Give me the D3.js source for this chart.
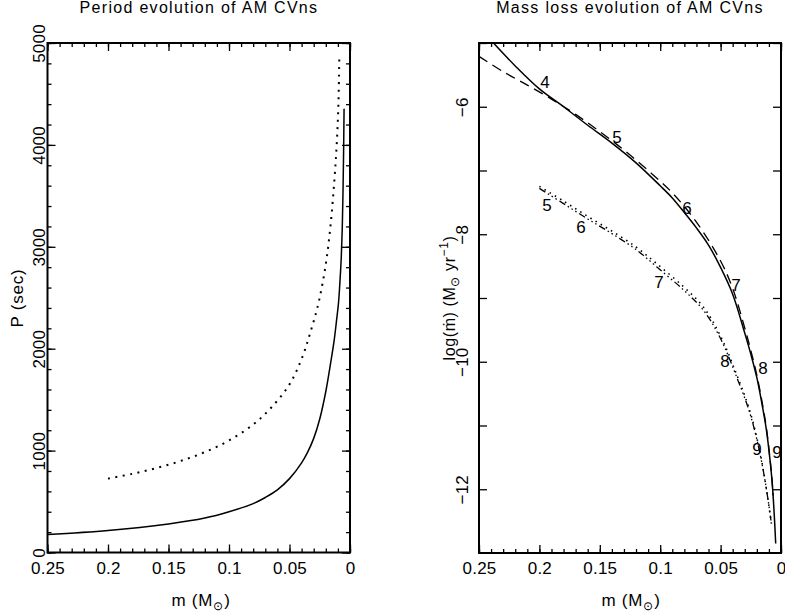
<!DOCTYPE html>
<html>
<head>
<meta charset="utf-8">
<script src="https://cdn.jsdelivr.net/npm/d3@7"></script>
<style>
  body { margin: 0; background: #fff; }
  svg { display: block; }
  text { font-family: "Liberation Sans", Arial, Helvetica, sans-serif; fill: #000; }
  .domain { display: none; }
</style>
</head>
<body>
<div id="chart"></div>
<script>
// Left panel: orbital period vs donor mass
const massSolidL = [0.25, 0.2, 0.15, 0.12, 0.1, 0.08, 0.07, 0.06, 0.05, 0.04, 0.035, 0.03, 0.025, 0.02, 0.016, 0.013, 0.011, 0.0095, 0.0082, 0.0072, 0.0064, 0.0058, 0.0053, 0.0049];
const periodSolid = [176, 215, 280, 338, 400, 480, 540, 615, 725, 880, 985, 1120, 1310, 1580, 1860, 2090, 2290, 2450, 2680, 2900, 3180, 3520, 3920, 4355];
const massDottedL = [0.2, 0.18, 0.16, 0.14, 0.12, 0.1, 0.08, 0.065, 0.05, 0.04, 0.033, 0.026, 0.02, 0.016, 0.013, 0.011, 0.0096, 0.0088];
const periodDotted = [725, 772, 829, 898, 985, 1099, 1256, 1423, 1650, 1900, 2150, 2450, 2830, 3220, 3640, 4000, 4390, 4880];

// Right panel: log mass loss rate vs donor mass
const massSolidR = [0.238, 0.22, 0.2, 0.18, 0.16, 0.14, 0.12, 0.1, 0.09, 0.08, 0.07, 0.06, 0.05, 0.04, 0.03, 0.025, 0.02, 0.015, 0.012, 0.0091, 0.0075, 0.0063, 0.0053, 0.0044];
const logMdotSolid = [-5.0, -5.36, -5.72, -6.0, -6.29, -6.57, -6.88, -7.24, -7.43, -7.66, -7.9, -8.17, -8.52, -8.94, -9.55, -9.88, -10.25, -10.74, -11.08, -11.54, -11.85, -12.17, -12.5, -12.85];
const massDashedR = [0.25, 0.23, 0.21, 0.19, 0.17, 0.15, 0.13, 0.11, 0.09, 0.07, 0.05, 0.04, 0.03, 0.025, 0.02, 0.015, 0.012, 0.0091, 0.0075, 0.0065];
const logMdotDashed = [-5.21, -5.45, -5.66, -5.88, -6.12, -6.39, -6.68, -7.0, -7.35, -7.81, -8.42, -8.85, -9.47, -9.82, -10.21, -10.7, -11.05, -11.52, -11.84, -12.1];
const massDashDotR = [0.2, 0.18, 0.16, 0.14, 0.12, 0.103, 0.0809, 0.0643, 0.0505, 0.0367, 0.0257, 0.0174, 0.0119, 0.0083];
const logMdotDashDot = [-7.28, -7.52, -7.76, -7.99, -8.24, -8.51, -8.87, -9.19, -9.62, -10.24, -10.81, -11.44, -12.02, -12.49];
const massDotR = [0.2, 0.18, 0.16, 0.14, 0.12, 0.103, 0.0809, 0.0643, 0.0505, 0.0367, 0.0257, 0.0174, 0.0119, 0.0075];
const logMdotDot = [-7.25, -7.48, -7.72, -7.95, -8.2, -8.46, -8.82, -9.14, -9.58, -10.2, -10.78, -11.42, -12.02, -12.6];

// Numbers written along the curves
const upperLabels = ["4", "5", "6", "7", "8", "9"];
const upperLabelMass = [0.1954, 0.1358, 0.0778, 0.0373, 0.0149, 0.0033];
const upperLabelLog = [-5.61, -6.47, -7.59, -8.80, -10.10, -11.42];
const lowerLabels = ["5", "6", "7", "8", "9"];
const lowerLabelMass = [0.1937, 0.1656, 0.101, 0.0464, 0.0199];
const lowerLabelLog = [-7.54, -7.88, -8.75, -9.99, -11.36];

// Axis ticks
const massTicks = [0.25, 0.2, 0.15, 0.1, 0.05, 0];
const massTickLabels = ["0.25", "0.2", "0.15", "0.1", "0.05", "0"];
const periodTicks = [0, 1000, 2000, 3000, 4000, 5000];
const logTicks = [-6, -8, -10, -12];
const logTickLabels = ["\u22126", "\u22128", "\u221210", "\u221212"];

const W = 785, H = 612;
const svg = d3.select("#chart").append("svg").attr("width", W).attr("height", H);

const zip = (a, b) => a.map((v, i) => [v, b[i]]);

function frame(g, x, y, xMinor, yMinor, yMajor) {
  const [x0, x1] = x.range();
  const [y1, y0] = y.range();
  // ticks point inwards on all four sides
  const addTicks = (axisFn, scale, values, size, pos) => {
    g.append("g")
      .attr("transform", pos)
      .call(axisFn(scale).tickValues(values).tickSize(size).tickFormat(""))
      .call(s => s.selectAll("line").attr("stroke-width", 1.3));
  };
  addTicks(d3.axisBottom, x, xMinor, -4, `translate(0,${y1})`);
  addTicks(d3.axisBottom, x, massTicks, -8, `translate(0,${y1})`);
  addTicks(d3.axisTop, x, xMinor, -4, `translate(0,${y0})`);
  addTicks(d3.axisTop, x, massTicks, -8, `translate(0,${y0})`);
  if (yMinor.length) {
    addTicks(d3.axisLeft, y, yMinor, -4, `translate(${x0},0)`);
    addTicks(d3.axisRight, y, yMinor, -4, `translate(${x1},0)`);
  }
  addTicks(d3.axisLeft, y, yMajor, -8, `translate(${x0},0)`);
  addTicks(d3.axisRight, y, yMajor, -8, `translate(${x1},0)`);
  g.append("rect")
    .attr("x", x0).attr("y", y0)
    .attr("width", x1 - x0).attr("height", y1 - y0)
    .attr("fill", "none").attr("stroke", "#000").attr("stroke-width", 2);
}

function bottomLabels(g, x, yBase) {
  g.append("g")
    .attr("transform", `translate(0,${yBase})`)
    .call(d3.axisBottom(x).tickValues(massTicks).tickSize(0).tickPadding(9)
      .tickFormat((d, i) => massTickLabels[i]))
    .call(s => s.selectAll("text").attr("font-size", 17).attr("letter-spacing", 0.2)
      .style("font-family", "'Liberation Sans', Arial, sans-serif"));
}

function leftLabels(g, y, xPos, values, labels, offset) {
  g.append("g")
    .attr("transform", `translate(${xPos},0)`)
    .call(d3.axisLeft(y).tickValues(values).tickSize(0).tickFormat((d, i) => labels[i]))
    .call(s => s.selectAll("text")
      .attr("transform", "rotate(-90)")
      .attr("x", 0).attr("y", -offset).attr("dy", 0)
      .attr("text-anchor", "middle")
      .attr("font-size", 17).attr("letter-spacing", 0.2)
      .style("font-family", "'Liberation Sans', Arial, sans-serif"));
}

function massTitle(g, cx) {
  const t = g.append("text").attr("x", cx).attr("y", 606)
    .attr("text-anchor", "middle").attr("font-size", 17).attr("letter-spacing", 0.8);
  t.append("tspan").text("m  (M");
  t.append("tspan").attr("font-size", 12).attr("dy", 4).text("\u2299");
  t.append("tspan").attr("dy", -4).text(")");
}

const xMinor = d3.range(0, 26).map(i => i / 100);
const line = (x, y) => d3.line().x(d => x(d[0])).y(d => y(d[1])).curve(d3.curveCatmullRom.alpha(0.5));

// ---------- Left panel ----------
const xL = d3.scaleLinear().domain([0.25, 0]).range([47.5, 350]);
const yL = d3.scaleLinear().domain([0, 5000]).range([552.5, 43]);
const gL = svg.append("g");

gL.append("path").datum(zip(massSolidL, periodSolid))
  .attr("d", line(xL, yL)).attr("fill", "none")
  .attr("stroke", "#000").attr("stroke-width", 1.5);
gL.append("path").datum(zip(massDottedL, periodDotted))
  .attr("d", line(xL, yL)).attr("fill", "none")
  .attr("stroke", "#000").attr("stroke-width", 2)
  .attr("stroke-dasharray", "2,5.5");

frame(gL, xL, yL, xMinor, d3.range(0, 5001, 200), periodTicks);
bottomLabels(gL, xL, 552.5);
leftLabels(gL, yL, 47.5, periodTicks, periodTicks.map(String), 3);
massTitle(gL, 201);

gL.append("text").attr("transform", "translate(23,298) rotate(-90)")
  .attr("text-anchor", "middle").attr("font-size", 17).attr("letter-spacing", 0.8)
  .text("P  (sec)");
gL.append("text").attr("x", 199).attr("y", 13)
  .attr("text-anchor", "middle").attr("font-size", 16).attr("letter-spacing", 1.3)
  .text("Period evolution of AM CVns");

// ---------- Right panel ----------
const xR = d3.scaleLinear().domain([0.25, 0]).range([479, 781]);
const yR = d3.scaleLinear().domain([-13, -5]).range([553, 43]);
const gR = svg.append("g");
svg.append("clipPath").attr("id", "clipR").append("rect")
  .attr("x", 479).attr("y", 43).attr("width", 302).attr("height", 510);

const seriesR = [
  { m: massSolidR, v: logMdotSolid, dash: null, w: 1.5 },
  { m: massDashedR, v: logMdotDashed, dash: "10,6", w: 1.3 },
  { m: massDashDotR, v: logMdotDashDot, dash: "7,3,1.5,3,1.5,3,1.5,3", w: 1.3 },
  { m: massDotR, v: logMdotDot, dash: "1.5,4.5", w: 1.6 }
];
seriesR.forEach(s => {
  gR.append("path").datum(zip(s.m, s.v))
    .attr("clip-path", "url(#clipR)")
    .attr("d", line(xR, yR)).attr("fill", "none")
    .attr("stroke", "#000").attr("stroke-width", s.w)
    .attr("stroke-dasharray", s.dash);
});

const addNumbers = (texts, ms, vs) => {
  gR.selectAll(null).data(texts).join("text")
    .attr("x", (d, i) => xR(ms[i])).attr("y", (d, i) => yR(vs[i]))
    .attr("dy", "0.36em").attr("text-anchor", "middle").attr("font-size", 17)
    .text(d => d);
};
addNumbers(upperLabels, upperLabelMass, upperLabelLog);
addNumbers(lowerLabels, lowerLabelMass, lowerLabelLog);

frame(gR, xR, yR, xMinor, [], d3.range(-12, -4, 1));
bottomLabels(gR, xR, 553);
leftLabels(gR, yR, 479, logTicks, logTickLabels, 11);
massTitle(gR, 631);

const yt = gR.append("text").attr("transform", "translate(455,298) rotate(-90)")
  .attr("text-anchor", "middle").attr("font-size", 16).attr("letter-spacing", 0.6);
yt.append("tspan").text("log(\u1E41)  (M");
yt.append("tspan").attr("font-size", 12).attr("dy", 4).text("\u2299");
yt.append("tspan").attr("dy", -4).text(" yr");
yt.append("tspan").attr("font-size", 12).attr("dy", -7).text("\u22121");
yt.append("tspan").attr("dy", 7).text(")");

gR.append("text").attr("x", 630).attr("y", 13)
  .attr("text-anchor", "middle").attr("font-size", 16).attr("letter-spacing", 1.3)
  .text("Mass loss evolution of AM CVns");
</script>
</body>
</html>
